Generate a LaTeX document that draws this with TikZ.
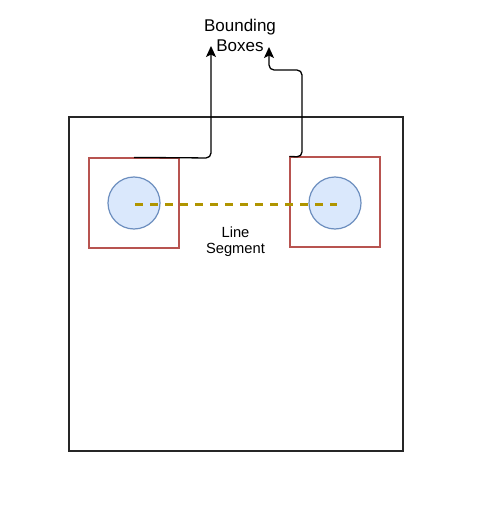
\documentclass[tikz,border=0pt]{standalone}
\usepackage{fontspec}
\setmainfont{Liberation Sans}
\usetikzlibrary{arrows.meta}
\definecolor{bbred}{HTML}{B85450}
\definecolor{cfill}{HTML}{DAE8FC}
\definecolor{cdraw}{HTML}{6C8EBF}
\definecolor{segcol}{HTML}{B09500}
\begin{document}
\begin{tikzpicture}[x=1pt,y=-1pt,
  frame/.style={draw=black!85,line width=1.2pt},
  bbox/.style={draw=bbred,line width=1.2pt,minimum width=90pt,minimum height=90pt,inner sep=0pt},
  blob/.style={circle,draw=cdraw,fill=cfill,line width=1.2pt,minimum size=52pt,inner sep=0pt},
  seg/.style={draw=segcol,line width=3pt,dash pattern=on 7.5pt off 7.5pt},
  pointer/.style={draw=black,line width=1.3pt,rounded corners=5pt,-{Stealth[length=11pt,width=10pt,inset=2.5pt]}},
  lbl/.style={align=center,inner sep=0pt}
]
\useasboundingbox[fill=white] (0,0) rectangle (490,516);
\node[frame,minimum width=334pt,minimum height=334pt,inner sep=0pt] (outer) at (236,284) {};
\node[bbox] (lb) at (134,203) {};
\node[bbox] (rb) at (335,202) {};
\node[blob] (lc) at (134,203) {};
\node[blob] (rc) at (335,203) {};
\coordinate (ls) at (135,204.5);
\coordinate (le) at (337,204.5);
\draw[seg] (ls) -- (le);
\node[lbl,font=\fontsize{14.7}{16.5}\selectfont] (segtxt) at (235.5,241.5) {Line\\Segment};
\node[lbl,font=\fontsize{17}{20}\selectfont] (bbtxt) at (240,35.5) {Bounding\\Boxes};
\coordinate (t1) at (211,46);
\coordinate (t2) at (269,47);
\draw[pointer] (lb.north) -- (211,158) -- (t1);
\draw[pointer] (rb.north west) -- (302,157) -- (302,70) -- (269,70) -- (t2);
\end{tikzpicture}
\end{document}
